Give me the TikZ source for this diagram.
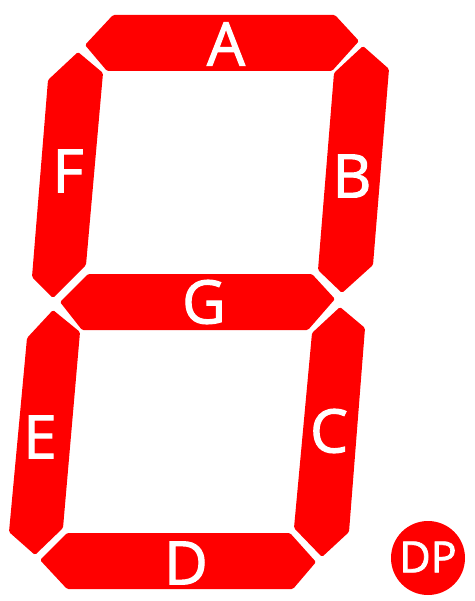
\documentclass[tikz,border=0pt]{standalone}
\usepackage{fontspec}
\setmainfont{Open Sans}[FakeBold=1.8]

\begin{document}
\begin{tikzpicture}[x=1pt,y=-1pt,
    seg/.style={fill=red, rounded corners=1.5pt},
    lbl/.style={text=white, font=\fontsize{60}{60}\selectfont, inner sep=0pt}]
        \useasboundingbox (0,0) rectangle (474,601);
        % horizontal segments
        \fill[seg] (113,15) -- (335,15) -- (359,41) -- (332,71) -- (107,71) -- (85,45) -- cycle;
        \fill[seg] (88,274) -- (312,274) -- (335,299) -- (308,330) -- (82,330) -- (60,302) -- cycle;
        \fill[seg] (67,533) -- (290,533) -- (316,562) -- (293,589) -- (67,589) -- (40,560) -- cycle;
        % vertical segments
        \fill[seg] (78,52) -- (103,73) -- (86,265) -- (53,298) -- (32,277) -- (48,80) -- cycle;
        \fill[seg] (363,46) -- (389,69) -- (373,265) -- (342,293) -- (318,270) -- (334,73) -- cycle;
        \fill[seg] (53,310) -- (80,332) -- (63,528) -- (35,555) -- (9,532) -- (27,338) -- cycle;
        \fill[seg] (340,307) -- (365,328) -- (349,532) -- (322,557) -- (294,528) -- (312,333) -- cycle;
        % decimal point
        \fill[red] (428,558) circle (37);
        \node[lbl] (a) at (226,44) {A};
        \node[lbl] (b) at (352,176) {B};
        \node[lbl] (c) at (329,431) {C};
        \node[lbl] (d) at (186,563) {D};
        \node[lbl] (e) at (40,437) {E};
        \node[lbl] (f) at (68,171) {F};
        \node[lbl] (g) at (204,302) {G};
        \node[lbl, font=\fontsize{43}{43}\selectfont] (dp) at (428,557) {DP};
\end{tikzpicture}
\end{document}
